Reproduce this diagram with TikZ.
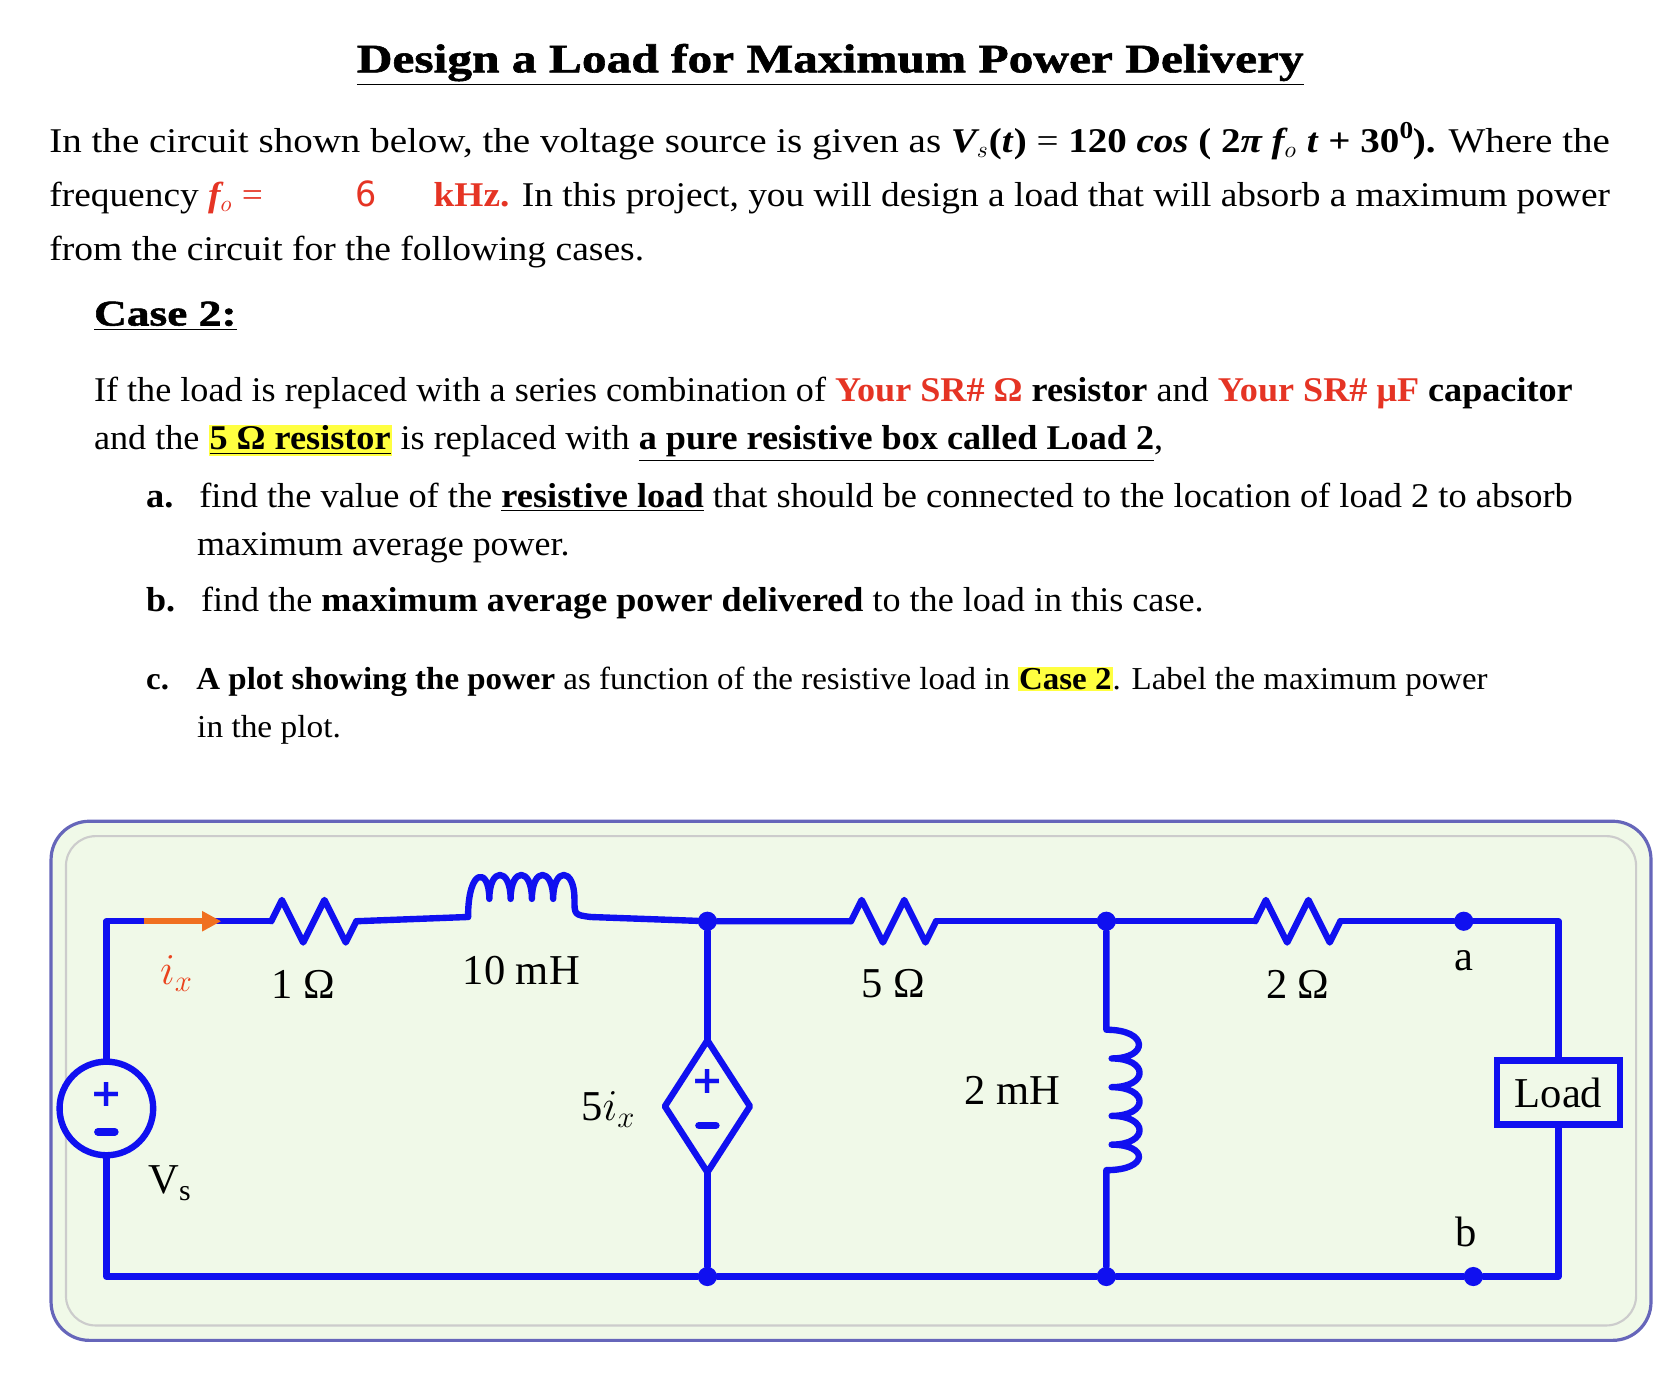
\documentclass[tikz,border=0pt]{standalone}
\usepackage{fontspec}
\usepackage{graphicx}
\setmainfont{Liberation Serif}[FakeStretch=1.12]
\newfontfamily\dejasans{DejaVu Sans}
\newfontfamily\titlefont{Liberation Serif}[FakeStretch=1.25,FakeBold=1.5]
\newfontfamily\labfont{Liberation Serif}
\newfontfamily\signfont{DejaVu Sans}
\usetikzlibrary{arrows.meta,decorations.pathmorphing}
\definecolor{wire}{HTML}{1010F0}
\definecolor{rd}{HTML}{E53424}
\definecolor{org}{HTML}{F07020}
\definecolor{bg}{HTML}{F0F9E8}
\definecolor{hl}{HTML}{FFFF40}
\newcommand{\hili}[1]{{\setlength{\fboxsep}{0.5pt}\colorbox{hl}{#1}}}
\newcommand{\fitw}[2]{\resizebox{#1}{\height}{#2}}
\begin{document}
\begin{tikzpicture}[x=0.5pt,y=-0.5pt,
  txt/.style={anchor=base west,inner sep=0,font=\fontsize{16.3}{19}\selectfont},
  small/.style={anchor=base west,inner sep=0,font=\fontsize{15}{18}\selectfont},
  w/.style={draw=wire,line width=3pt,line cap=round,line join=round},
  lab/.style={font=\labfont\fontsize{20}{24}\selectfont,inner sep=0},
  sign/.style={font=\signfont\bfseries\fontsize{18}{18}\selectfont,text=wire,inner sep=0},
  dot/.style={circle,fill=wire,inner sep=0,minimum size=9pt}]
\useasboundingbox (0,0) rectangle (1568,1294);
% title
\node[anchor=base west,inner sep=0,font=\titlefont\fontsize{19}{22}\selectfont\bfseries] (title) at (335,68) {\fitw{445pt}{\underline{Design a Load for Maximum Power Delivery}}};
\node[txt] (l1) at (46,143) {\fitw{733.5pt}{In the circuit shown below, the voltage source is given as \textbf{\textit{V$_s$}(\textit{t})} = \textbf{120 \textit{cos} ( 2\textit{π f$_o$ t} + 30$^{\mathbf 0}$).} Where the}};
\node[txt] (l2) at (46,194) {\fitw{733.5pt}{frequency \textcolor{rd}{\textbf{\textit{f$_o$}} =}\hspace{45pt}{\dejasans\textcolor{rd}{6}}\hspace{28pt}\textcolor{rd}{\textbf{kHz.}} In this project, you will design a load that will absorb a maximum power}};
\node[txt] (l3) at (46,245) {\fitw{279.5pt}{from the circuit for the following cases.}};
\node[txt,font=\titlefont\fontsize{17}{20}\selectfont\bfseries] (case) at (88,306) {\fitw{67pt}{\underline{Case 2:}}};
\node[txt] (p1) at (88,377) {\fitw{695pt}{If the load is replaced with a series combination of \textcolor{rd}{\textbf{Your SR\# Ω}} \textbf{resistor} and \textcolor{rd}{\textbf{Your SR\# μF}} \textbf{capacitor}}};
\node[txt] (p2) at (88,423) {\fitw{502.5pt}{and the \hili{\textbf{\underline{5 Ω resistor}}} is replaced with \textbf{\underline{a pure resistive box called Load 2}},}};
\node[txt] (a1) at (137,477) {\fitw{670.5pt}{\textbf{a.}\hspace{13pt}find the value of the \textbf{\underline{resistive load}} that should be connected to the location of load 2 to absorb}};
\node[txt] (a2) at (185,522) {\fitw{175pt}{maximum average power.}};
\node[txt] (b1) at (137,575) {\fitw{497pt}{\textbf{b.}\hspace{13pt}find the \textbf{maximum average power delivered} to the load in this case.}};
\node[small] (c1) at (137,648) {\fitw{630.5pt}{\textbf{c.}\hspace{14pt}\textbf{A plot showing the power} as function of the resistive load in \hili{\textbf{Case 2}}. Label the maximum power}};
\node[small] (c2) at (185,693) {\fitw{67.5pt}{in the plot.}};
% frame
\draw[draw=black!45!blue!60,line width=1.5pt,fill=bg,rounded corners=18pt] (48,772) rectangle (1552,1260);
\draw[draw=black!20,line width=1pt,rounded corners=14pt] (62,786) rectangle (1538,1246);
% coordinates
\coordinate (tl) at (100,866); \coordinate (bl) at (100,1200);
\node[dot] (n1) at (665,866) {}; \node[dot] (n2) at (1040,866) {};
\node[dot] (n3) at (665,1200) {}; \node[dot] (n4) at (1040,1200) {};
\node[dot] (ta) at (1376,866) {}; \node[dot] (tb) at (1385,1200) {};
\coordinate (tr) at (1465,866); \coordinate (br) at (1465,1200);
\node[circle,draw=wire,line width=3pt,fill=bg,minimum size=44pt,inner sep=0] (src) at (100,1042) {};
\node[sign] at (100,1029) {+};
\draw[wire,line width=3.5pt,line cap=round] (92,1064)--(108,1064);
\node[draw=wire,line width=3pt,shape=rectangle,minimum width=58pt,minimum height=30pt,fill=bg,font=\labfont\fontsize{20}{24}\selectfont,inner sep=0] (load) at (1465,1027) {Load};
\coordinate (dT) at (665,978); \coordinate (dB) at (665,1102);
% wires
\draw[w] (src.north) -- (tl) -- (255,866);
\draw[w,decorate,decoration={zigzag,segment length=20,amplitude=10}] (255,866) -- (335,866);
\draw[w] (335,866) -- (440,862);
\draw[w] (440,862) .. controls (440,815) and (460,815) .. (460,845) .. controls (460,815) and (480,815) .. (480,845) .. controls (480,815) and (500,815) .. (500,845) .. controls (500,815) and (520,815) .. (520,845) .. controls (520,815) and (540,815) .. (540,845) .. controls (540,860) .. (555,862);
\draw[w] (555,862) -- (n1) -- (800,866);
\draw[w,decorate,decoration={zigzag,segment length=20,amplitude=10}] (800,866) -- (880,866);
\draw[w] (880,866) -- (n2) -- (1180,866);
\draw[w,decorate,decoration={zigzag,segment length=20,amplitude=10}] (1180,866) -- (1260,866);
\draw[w] (1260,866) -- (ta) -- (tr) -- (load.north);
\draw[w] (load.south) -- (br) -- (tb) -- (n4) -- (n3) -- (bl) -- (src.south);
\draw[w] (n1) -- (dT); \draw[w] (dB) -- (n3);
\draw[w,fill=bg] (dT) -- (705,1040) -- (dB) -- (625,1040) -- cycle;
\node[sign] at (665,1017) {+};
\draw[wire,line width=3.5pt,line cap=round] (657,1058)--(673,1058);
\draw[w] (n2) -- (1040,968) .. controls (1080,968) and (1080,995) .. (1045,995) .. controls (1080,995) and (1080,1022) .. (1045,1022) .. controls (1080,1022) and (1080,1049) .. (1045,1049) .. controls (1080,1049) and (1080,1076) .. (1045,1076) .. controls (1080,1076) and (1080,1100) .. (1040,1100) -- (n4);
% arrow
\draw[org,line width=3pt,-{Triangle[length=9pt,width=9pt]}] (135,866) -- (208,866);
% labels
\node[lab,text=rd!80!orange] at (166,915) {$i_x$};
\node[lab] at (285,925) {1 Ω};
\node[lab] at (490,912) {10 mH};
\node[lab] at (840,925) {5 Ω};
\node[lab] at (1220,925) {2 Ω};
\node[lab] at (1376,903) {a};
\node[lab] at (572,1043) {5$i_x$};
\node[lab] at (952,1025) {2 mH};
\node[lab] at (160,1112) {V\textsubscript{s}};
\node[lab] at (1378,1158) {b};
\end{tikzpicture}
\end{document}
